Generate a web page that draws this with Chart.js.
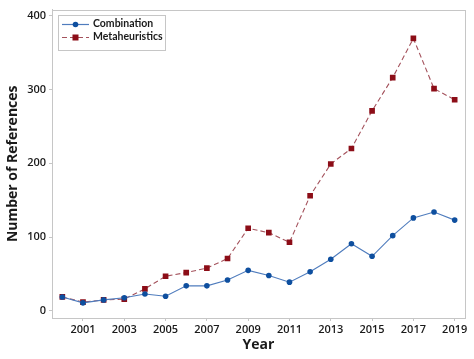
<!DOCTYPE html>
<html>
<head>
<meta charset="utf-8">
<script src="https://cdn.jsdelivr.net/npm/chart.js@4"></script>
<style>
html,body{margin:0;padding:0;background:#fff;}
#wrap{position:relative;width:474px;height:359px;}
</style>
</head>
<body>
<div id="wrap"><canvas id="c" width="474" height="359"></canvas></div>
<script>
const years = [2000,2001,2002,2003,2004,2005,2006,2007,2008,2009,2010,2011,2012,2013,2014,2015,2016,2017,2018,2019];
const combination = [19,11,15,18,23,20,34,34,42,55,48,39,53,70,91,74,102,126,134,123];
const metaheuristics = [19,12,15,16,30,47,52,58,71,112,106,93,156,199,220,271,316,369,301,286];
const xTickLabels = [2001,2003,2005,2007,2009,2011,2013,2015,2017,2019];
const yTickLabels = [0,100,200,300,400];
const seriesNames = ['Combination','Metaheuristics'];

const FONT = '"Open Sans", "Noto Sans", sans-serif';
const LEGEND_FONT = 'Lato, "Open Sans", sans-serif';
const blueLine = '#4f7cbd', blueMark = '#0e4f9f';
const redLine = '#a4525c', redMark = '#8c0d17';
const frameColor = '#c6c6c6';

const framePlugin = {
  id: 'frame',
  afterDraw(chart) {
    const {ctx, chartArea: a} = chart;
    ctx.save();
    ctx.strokeStyle = frameColor;
    ctx.lineWidth = 1;
    ctx.strokeRect(Math.round(a.left) + 0.5, Math.round(a.top) + 0.5, Math.round(a.right - a.left), Math.round(a.bottom - a.top));
    // legend box
    const bx = 58.5, by = 15.5, bw = 107, bh = 35;
    ctx.fillStyle = '#fff';
    ctx.fillRect(bx, by, bw, bh);
    ctx.strokeRect(bx, by, bw, bh);
    const items = [
      {name: seriesNames[0], line: blueLine, mark: blueMark, dash: [], style: 'circle', y: 24},
      {name: seriesNames[1], line: redLine, mark: redMark, dash: [5,3], style: 'rect', y: 37}
    ];
    items.forEach(it => {
      ctx.save();
      ctx.strokeStyle = it.line;
      ctx.lineWidth = 1.2;
      ctx.setLineDash(it.dash);
      ctx.beginPath();
      ctx.moveTo(62, it.y + 0.5);
      ctx.lineTo(89, it.y + 0.5);
      ctx.stroke();
      ctx.restore();
      ctx.fillStyle = it.mark;
      if (it.style === 'circle') {
        ctx.beginPath(); ctx.arc(75.5, it.y + 0.5, 2.8, 0, Math.PI * 2); ctx.fill();
      } else {
        ctx.fillRect(72.5, it.y - 2.5, 6, 6);
      }
      ctx.fillStyle = '#1a1a1a';
      ctx.font = 'bold 10.5px ' + LEGEND_FONT;
      ctx.textBaseline = 'middle';
      ctx.textAlign = 'left';
      ctx.fillText(it.name, 93, it.y);
    });
    ctx.restore();
  }
};

new Chart(document.getElementById('c'), {
  type: 'line',
  data: {
    datasets: [
      {
        label: seriesNames[0],
        data: years.map((y, i) => ({x: y, y: combination[i]})),
        borderColor: blueLine, borderWidth: 1.1,
        pointBackgroundColor: blueMark, pointBorderColor: blueMark,
        pointStyle: 'circle', pointRadius: 2.8, pointBorderWidth: 0,
        tension: 0, order: 1
      },
      {
        label: seriesNames[1],
        data: years.map((y, i) => ({x: y, y: metaheuristics[i]})),
        borderColor: redLine, borderWidth: 1.1, borderDash: [5,3],
        pointBackgroundColor: redMark, pointBorderColor: redMark,
        pointStyle: 'rect', pointRadius: 4, pointBorderWidth: 0,
        tension: 0, order: 2
      }
    ]
  },
  options: {
    responsive: false,
    animation: false,
    layout: {padding: {top: 9, right: 9, left: 0, bottom: 0}},
    plugins: {legend: {display: false}, tooltip: {enabled: false}},
    scales: {
      x: {
        type: 'linear', min: 1999.5, max: 2019.5,
        afterBuildTicks: s => { s.ticks = xTickLabels.map(v => ({value: v})); },
        afterFit: s => { s.height = 41; },
        grid: {drawOnChartArea: false, drawTicks: true, tickLength: 3, color: frameColor},
        border: {color: frameColor},
        ticks: {color: '#1a1a1a', font: {family: FONT, size: 11, weight: '600'}, padding: 2, maxRotation: 0, autoSkip: false,
          callback: v => String(v)},
        title: {display: true, text: 'Year', color: '#1a1a1a', font: {family: FONT, size: 14, weight: 'bold'}, padding: {top: 0, bottom: 6}}
      },
      y: {
        min: -9.5, max: 408,
        afterBuildTicks: s => { s.ticks = yTickLabels.map(v => ({value: v})); },
        afterFit: s => { s.width = 52; },
        grid: {drawOnChartArea: false, drawTicks: true, tickLength: 3, color: frameColor},
        border: {color: frameColor},
        ticks: {color: '#1a1a1a', font: {family: FONT, size: 11, weight: '600'}, padding: 3},
        title: {display: true, text: 'Number of References', color: '#1a1a1a', font: {family: FONT, size: 14, weight: 'bold'}, padding: {top: 5, bottom: 4}}
      }
    }
  },
  plugins: [framePlugin]
});
</script>
</body>
</html>
